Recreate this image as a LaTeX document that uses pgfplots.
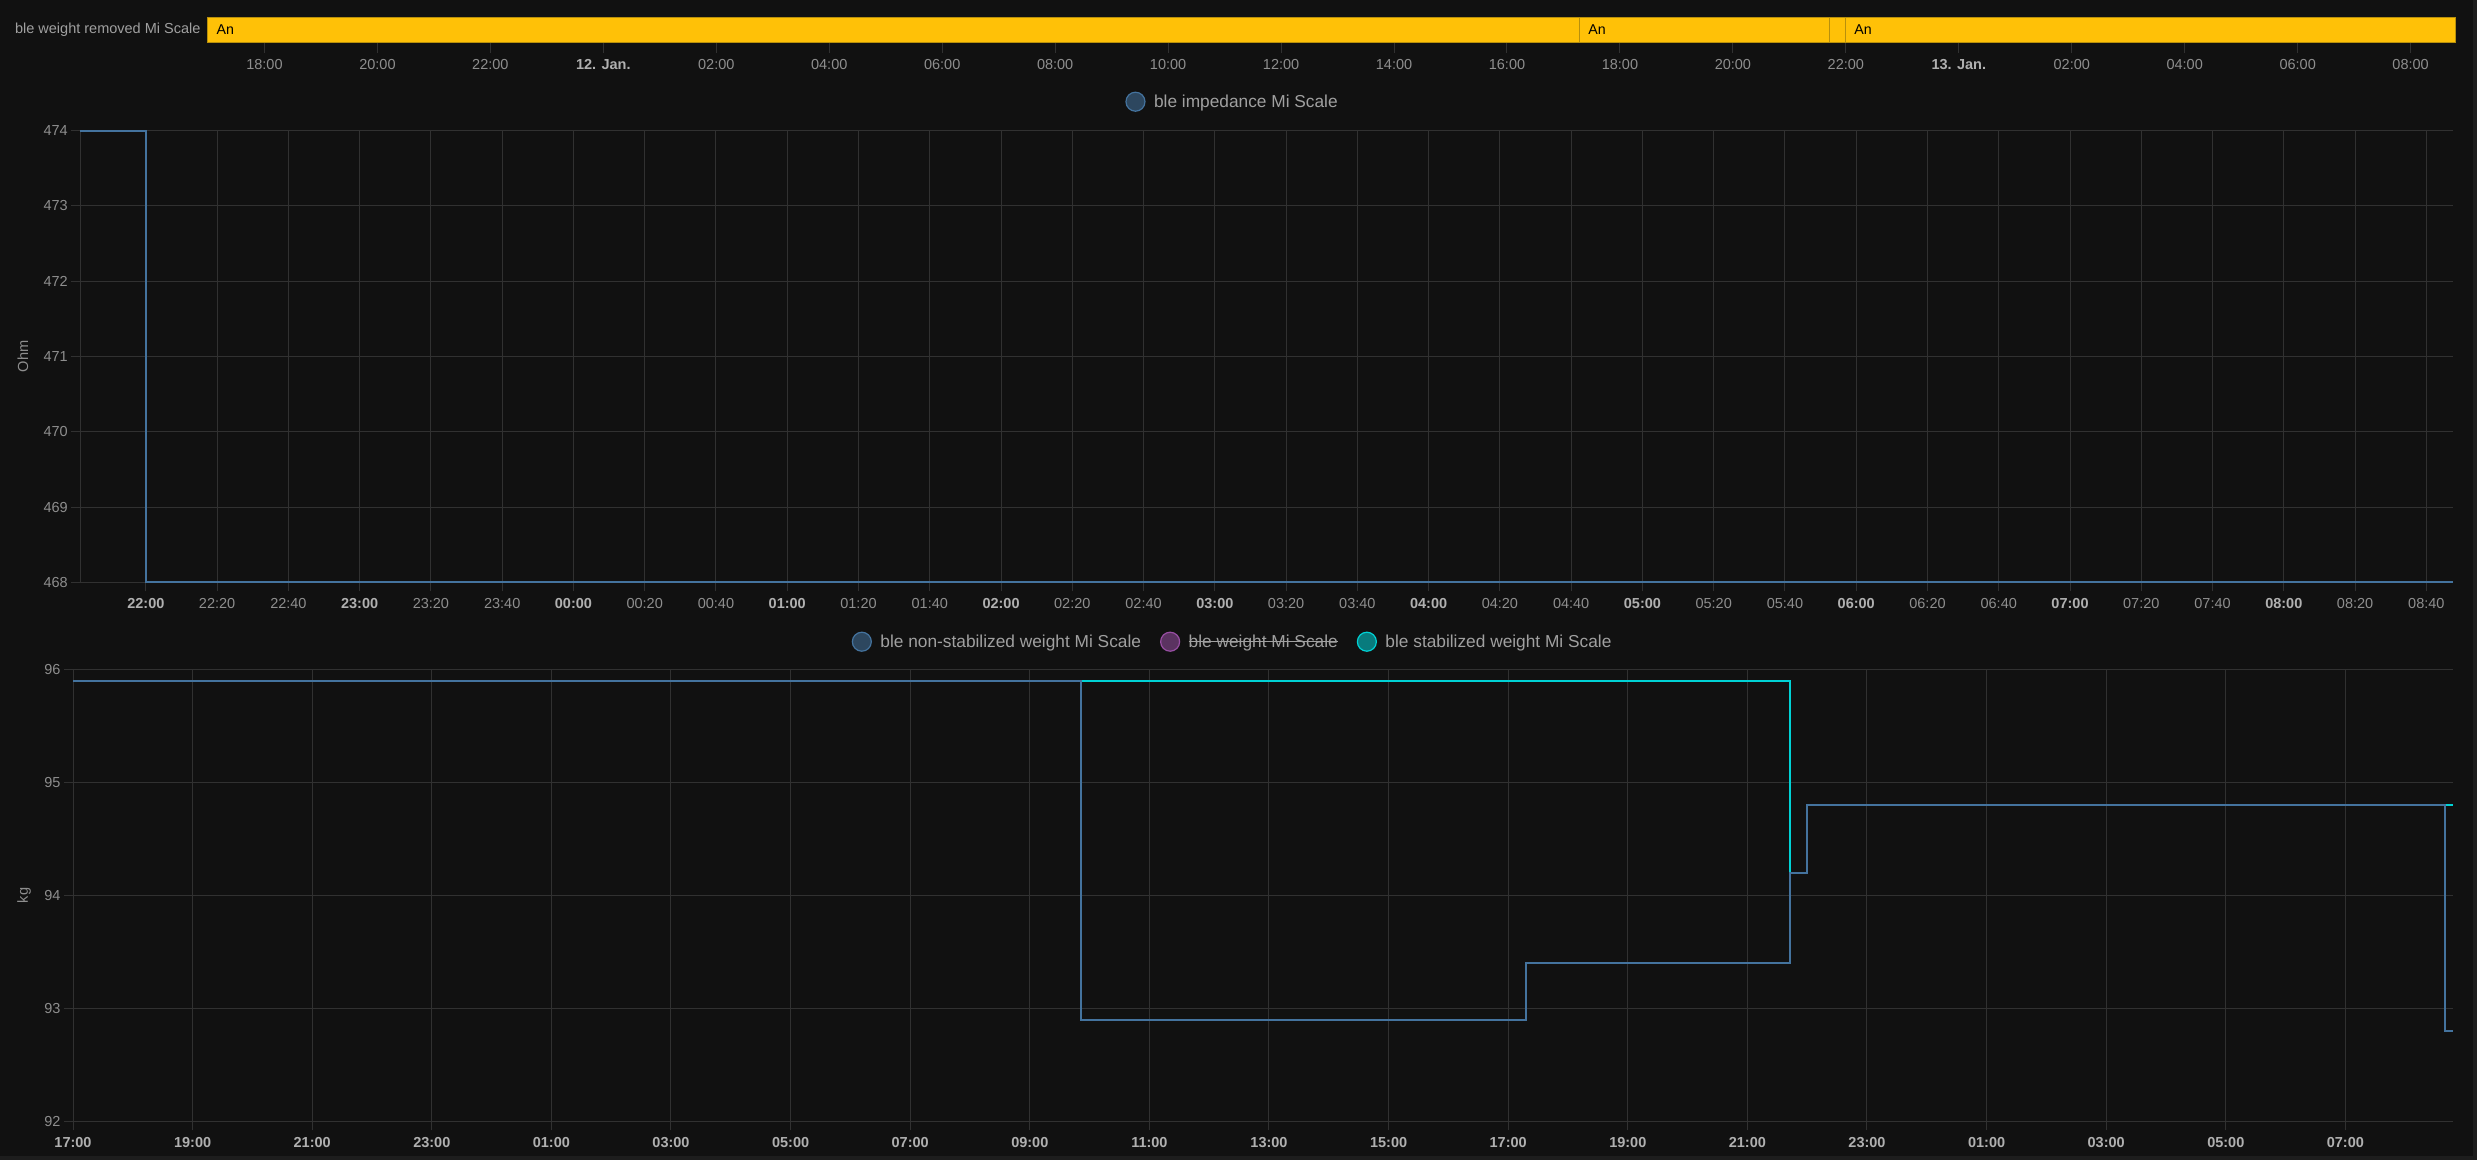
\documentclass[border=0pt]{standalone}
\usepackage{pgfplots}
\pgfplotsset{compat=1.18}
\usepackage{fontspec}
\setmainfont{Liberation Sans}

\definecolor{bg}{HTML}{111111}
\definecolor{edge}{HTML}{1D1D1D}
\definecolor{gridc}{HTML}{313131}
\definecolor{tickc}{HTML}{8E8E8E}
\definecolor{tickb}{HTML}{B0B0B0}
\definecolor{legc}{HTML}{A0A0A0}
\definecolor{serA}{HTML}{44739E}
\definecolor{serB}{HTML}{984EA3}
\definecolor{serC}{HTML}{00D2D5}
\definecolor{amber}{HTML}{FFC107}
\definecolor{amberd}{HTML}{B8900C}

\newcommand{\B}[1]{\textbf{\color{tickb}#1}}
% struck-through legend text (hidden series)
\newcommand{\strike}[1]{\leavevmode\setbox0\hbox{#1}%
  \rlap{\raisebox{0.28em}{\rule{\wd0}{1.3pt}}}\box0}

\pgfplotsset{
  ha/.style={
    scale only axis,
    axis x line*=bottom, axis y line*=left,
    axis line style={-, gridc, line width=1pt},
    grid=major, grid style={gridc, line width=1pt},
    tick style={gridc, line width=1pt},
    tick align=outside, major tick length=9pt,
    ticklabel style={font=\fontsize{14.5}{17}\selectfont, text=tickc},
    xticklabel style={anchor=center, yshift=-12pt},
    yticklabel style={anchor=east},
    /pgf/number format/assume math mode=true,
    clip=false,
    legend style={draw=none, fill=none, inner sep=0pt, text=legc,
      font=\fontsize{17.3}{20}\selectfont, legend columns=-1, anchor=center,
      nodes={inner sep=0pt},
      /tikz/every odd column/.append style={column sep=8.5pt},
      /tikz/every even column/.append style={column sep=19pt}},
    every axis y label/.style={at={(axis description cs:0,0.5)}, rotate=90,
      anchor=center, font=\fontsize{14.6}{17}\selectfont, text=tickc},
  },
  dot/.style={legend image code/.code={%
    \draw[draw=#1, fill=#1!55!bg, line width=1.2pt] (0pt,0pt) circle (9.5pt);}},
}

\begin{document}
\begin{tikzpicture}
\fill[bg] (0,0) rectangle (2477pt,-1160pt);
\fill[edge] (2473pt,0) rectangle (2477pt,-1160pt);
\fill[edge] (0,-1156pt) rectangle (2477pt,-1160pt);
\useasboundingbox (0,0) rectangle (2477pt,-1160pt);

% timeline: ble weight removed Mi Scale (hours after 11 Jan 17:00)
\begin{axis}[
  at={(208pt,-42.7pt)}, anchor=south west,
  scale only axis, width=2247.8pt, height=25.4pt,
  xmin=0, xmax=39.8, ymin=0, ymax=1,
  axis x line*=bottom, axis y line=none,
  x axis line style={draw=none},
  tick style={gridc, line width=1pt}, tick align=outside, major tick length=10pt,
  xtick={1,3,...,39},
  xticklabels={18:00,20:00,22:00,\B{12. Jan.},02:00,04:00,06:00,08:00,10:00,12:00,
    14:00,16:00,18:00,20:00,22:00,\B{13. Jan.},02:00,04:00,06:00,08:00},
  xticklabel style={anchor=center, yshift=-12.3pt, font=\fontsize{14.5}{17}\selectfont, text=tickc},
  clip=false,
]
\addplot[fill=amber, draw=amberd, line width=1pt] coordinates {(0,0) (24.29,0) (24.29,1) (0,1) (0,0)};
\addplot[fill=amber, draw=amberd, line width=1pt] coordinates {(24.29,0) (28.71,0) (28.71,1) (24.29,1) (24.29,0)};
\addplot[fill=amber, draw=amberd, line width=1pt] coordinates {(28.71,0) (29.0,0) (29.0,1) (28.71,1) (28.71,0)};
\addplot[fill=amber, draw=amberd, line width=1pt] coordinates {(29.0,0) (39.8,0) (39.8,1) (29.0,1) (29.0,0)};
\node[anchor=west, xshift=5pt, font=\fontsize{14.2}{17}\selectfont] at (axis cs:0,0.5) {An};
\node[anchor=west, xshift=5pt, font=\fontsize{14.2}{17}\selectfont] at (axis cs:24.29,0.5) {An};
\node[anchor=west, xshift=5pt, font=\fontsize{14.2}{17}\selectfont] at (axis cs:29.0,0.5) {An};
\node[anchor=east, xshift=-4pt, text=legc, font=\fontsize{14.5}{17}\selectfont] at (axis cs:0,0.5) {ble weight removed Mi Scale};
\end{axis}

% impedance (minutes after 12 Jan 21:00)
\begin{axis}[ha,
  at={(80.3pt,-582.3pt)}, anchor=south west,
  width=2372.7pt, height=451.6pt,
  xmin=41.6, xmax=707.5, ymin=468, ymax=474,
  ytick={468,...,474},
  xtick={60,80,...,700},
  xticklabels={\B{22:00},22:20,22:40,\B{23:00},23:20,23:40,\B{00:00},00:20,00:40,
    \B{01:00},01:20,01:40,\B{02:00},02:20,02:40,\B{03:00},03:20,03:40,
    \B{04:00},04:20,04:40,\B{05:00},05:20,05:40,\B{06:00},06:20,06:40,
    \B{07:00},07:20,07:40,\B{08:00},08:20,08:40},
  ylabel={Ohm},
  ylabel style={yshift=57.3pt},
  legend style={at={(0.4852,1)}, yshift=29pt},
]
\addplot[const plot, serA, line width=2pt, dot=serA] coordinates {
  (41.6,474) (60,468) (707.5,468)};
\addlegendentry{ble impedance Mi Scale}
\end{axis}

% weights (hours after 11 Jan 17:00)
\begin{axis}[ha,
  at={(73pt,-1121.3pt)}, anchor=south west,
  width=2380pt, height=452pt,
  xmin=0, xmax=39.8, ymin=92, ymax=96,
  ytick={92,...,96},
  xtick={0,2,...,38},
  xticklabels={17:00,19:00,21:00,23:00,01:00,03:00,05:00,07:00,09:00,11:00,
    13:00,15:00,17:00,19:00,21:00,23:00,01:00,03:00,05:00,07:00},
  xticklabel style={font=\bfseries\fontsize{14.5}{17}\selectfont, text=tickb},
  ylabel={kg},
  ylabel style={yshift=49pt},
  legend style={at={(0.4868,1)}, yshift=27.6pt},
]
\addlegendimage{dot=serA}
\addlegendentry{ble non-stabilized weight Mi Scale}
\addlegendimage{dot=serB}
\addlegendentry{\strike{ble weight Mi Scale}}
\addlegendimage{dot=serC}
\addlegendentry{ble stabilized weight Mi Scale}
\addplot[const plot, serC, line width=2pt, forget plot] coordinates {
  (0,95.9) (28.71,94.2) (29.0,94.8) (39.8,94.8)};
\addplot[const plot, serA, line width=2pt, forget plot] coordinates {
  (0,95.9) (16.85,92.9) (24.29,93.4) (28.71,94.2) (29.0,94.8) (39.67,92.8) (39.8,92.8)};
\end{axis}
\end{tikzpicture}
\end{document}
